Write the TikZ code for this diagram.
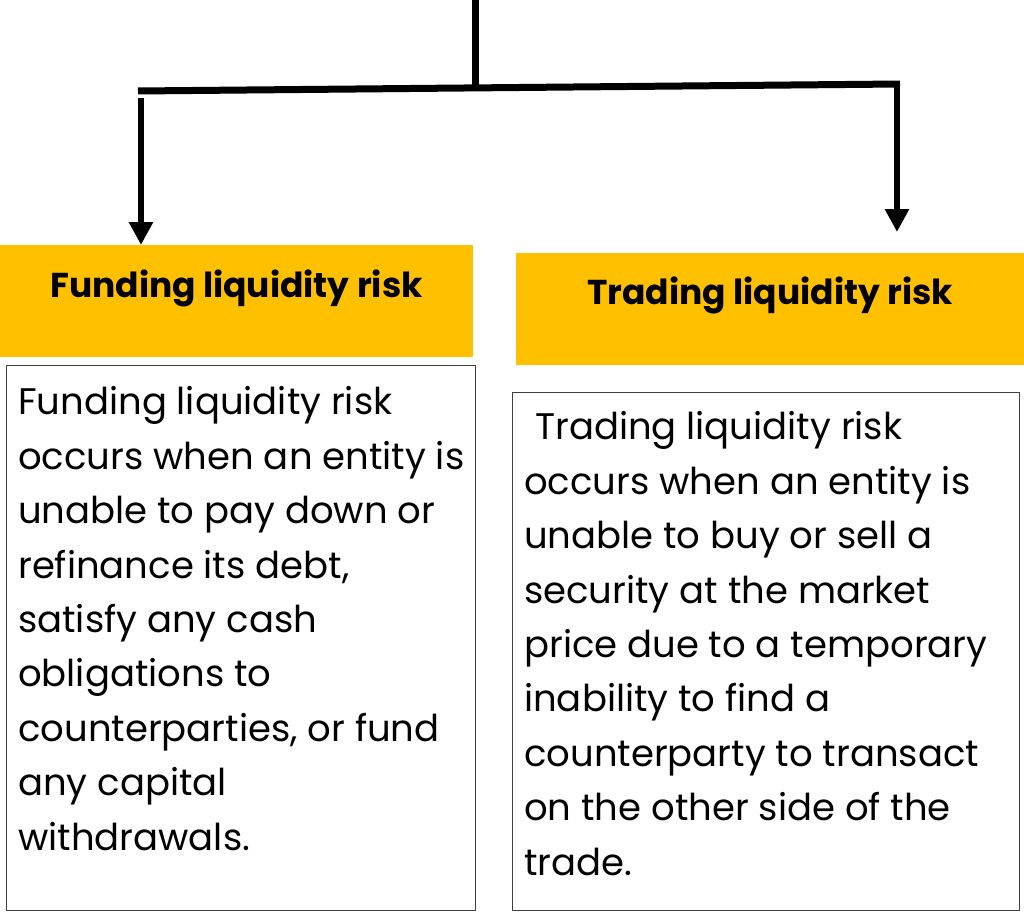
\documentclass[tikz,border=0pt]{standalone}
\usepackage{fontspec}
\setmainfont{Poppins}
\usetikzlibrary{arrows.meta}
\definecolor{gold}{HTML}{FFC000}
\definecolor{boxline}{HTML}{404040}
\tikzset{
  conn/.style={line width=7pt},
  arrowconn/.style={line width=6.5pt,-{Triangle[width=23pt,length=23pt]}},
  headbox/.style={fill=gold,draw=none},
  textbox/.style={draw=boxline,line width=1pt,fill=white},
  headtext/.style={font={\fontsize{34.5}{40}\selectfont\bfseries},inner sep=0pt,anchor=base west},
  bodytext/.style={font={\fontsize{37}{54.4}\selectfont},inner sep=0pt,anchor=base west,align=left}
}
\begin{document}
\begin{tikzpicture}[x=1pt,y=-1pt]
\useasboundingbox (0,0) rectangle (1024,912);
% boxes
\node[headbox,minimum width=473pt,minimum height=112pt,anchor=north west,inner sep=0pt] (fhead) at (0,245) {};
\node[headbox,minimum width=508pt,minimum height=112pt,anchor=north west,inner sep=0pt] (thead) at (516,253) {};
\node[textbox,minimum width=469pt,minimum height=545pt,anchor=north west,inner sep=0pt] (fbody) at (6,365) {};
\node[textbox,minimum width=507pt,minimum height=518pt,anchor=north west,inner sep=0pt] (tbody) at (512,392) {};
% titles
\node[headtext] (ftitle) at (50,297) {Funding liquidity risk};
\node[headtext] (ttitle) at (587,304) {Trading liquidity risk};
% body texts (anchor = baseline of last line)
\node[bodytext] (ftext) at (18,850) {Funding liquidity risk\\occurs when an entity is\\unable to pay down or\\refinance its debt,\\satisfy any cash\\obligations to\\counterparties, or fund\\any capital\\withdrawals.};
\node[bodytext] (ttext) at (524,875) {\hspace*{11pt}Trading liquidity risk\\occurs when an entity is\\unable to buy or sell a\\security at the market\\price due to a temporary\\inability to find a\\counterparty to transact\\on the other side of the\\trade.};
% connectors
\coordinate (top) at (475,0);
\coordinate (topj) at (475,88);
\coordinate (hl) at (138,91);
\coordinate (hr) at (900,84);
\coordinate (lstart) at (141,98);
\coordinate (rstart) at (897,84);
\draw[conn] (top) -- (topj);
\draw[conn] (hl) -- (hr);
\draw[arrowconn] (lstart) -- (lstart |- fhead.north);
\draw[arrowconn] (rstart) -- (897,232);
\end{tikzpicture}
\end{document}
